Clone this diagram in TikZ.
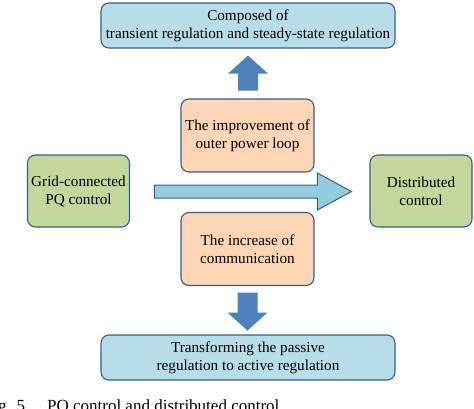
\documentclass[tikz,border=0pt]{standalone}
\usepackage{fontspec}
\setmainfont{Liberation Serif}
\usetikzlibrary{positioning}

\definecolor{boxline}{RGB}{56,93,138}
\definecolor{bluefill}{RGB}{183,222,232}
\definecolor{peachfill}{RGB}{252,213,181}
\definecolor{greenfill}{RGB}{195,214,155}
\definecolor{arrowblue}{RGB}{79,129,189}
\definecolor{shaftblue}{RGB}{147,205,221}

\tikzset{
  block/.style={draw=boxline,line width=1.1pt,rounded corners=8pt,align=center,
    inner sep=2pt,font=\fontsize{15.2}{18}\selectfont},
  resultbox/.style={block,fill=bluefill,minimum width=294pt,minimum height=45pt},
  factorbox/.style={block,fill=peachfill,minimum width=133pt,minimum height=73pt},
  controlbox/.style={block,fill=greenfill,minimum width=102pt,minimum height=72pt},
  fatarrow/.style={fill=arrowblue,draw=none},
  bigarrow/.style={fill=shaftblue,draw=boxline,line width=1pt,line join=miter}
}

\begin{document}
\begin{tikzpicture}[x=1pt,y=1pt]
  \useasboundingbox (0,0) rectangle (474,-408);
  \node[resultbox] (compose) at (248,-25.5) {Composed of\\transient regulation and steady-state regulation};
  \node[factorbox] (outer) at (247.5,-135.5) {The improvement of\\outer power loop};
  \node[controlbox] (pq) at (78.5,-191) {Grid-connected\\PQ control};
  \node[controlbox] (dist) at (421,-191) {Distributed\\control};
  \node[factorbox] (comm) at (247.5,-249) {The increase of\\communication};
  \node[resultbox] (active) at (248,-357.5) {Transforming the passive\\regulation to active regulation};

  % arrows
  \path (compose.south) ++(0,-7) coordinate (uptip);
  \draw[fatarrow] (uptip) -- ++(20,-18) -- ++(-10,0) -- ++(0,-17) -- ++(-20,0)
    -- ++(0,17) -- ++(-10,0) -- cycle;
  \path (comm.south) ++(0,-6.5) coordinate (downtop);
  \draw[fatarrow] (downtop) ++(-10,0) -- ++(20,0) -- ++(0,-20) -- ++(10,0)
    -- ++(-20,-18) -- ++(-20,18) -- ++(10,0) -- cycle;
  \path (dist.west) ++(-18,-0.5) coordinate (righttip);
  \draw[bigarrow] (righttip) -- ++(-34,18.5) -- ++(0,-12) -- ++(-163,0) -- ++(0,-13)
    -- ++(163,0) -- ++(0,-12) -- cycle;

  \node[anchor=base west,inner sep=0pt,font=\fontsize{17}{18}\selectfont] (caption)
    at (-2,-411.5) {g. 5\hspace{22pt}PQ control and distributed control};
\end{tikzpicture}
\end{document}
